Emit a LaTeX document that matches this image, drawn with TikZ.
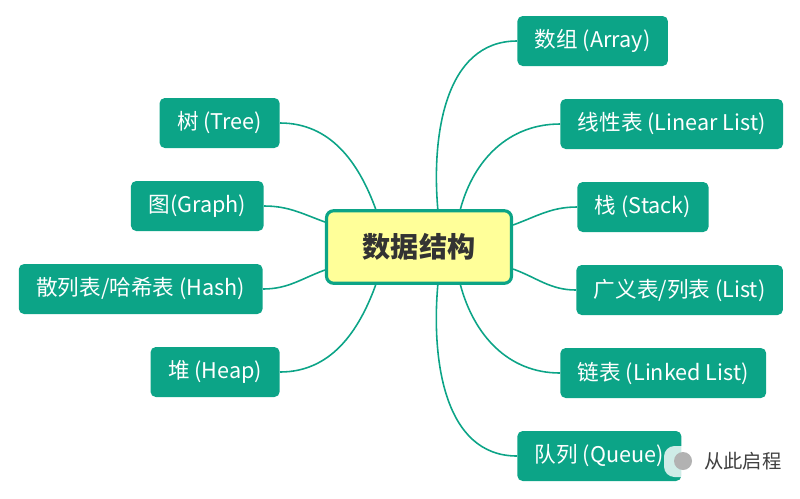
\documentclass[tikz,border=0pt]{standalone}
\usepackage{fontspec}
\setmainfont{Noto Sans CJK SC}
\usetikzlibrary{positioning,calc}
\definecolor{teal1}{HTML}{0CA487}
\definecolor{lemon}{HTML}{FFFF99}
\tikzset{
  leaf/.style={rectangle, rounded corners=3pt, fill=teal1, text=white, minimum height=1cm, inner xsep=10pt, font=\fontsize{12.3}{14}\selectfont},
  root/.style={rectangle, rounded corners=4pt, fill=lemon, draw=teal1, line width=1.8pt, minimum width=3.7cm, minimum height=1.45cm, font=\fontsize{16}{18}\selectfont\bfseries, text=black!80},
  link/.style={draw=teal1, line width=0.9pt}
}
\begin{document}
\begin{tikzpicture}[x=0.02cm, y=-0.02cm]
\useasboundingbox (0,0) rectangle (800,498);
% centre
\node[root] (ds) at (419,247) {数据结构};
% right side
\node[leaf, anchor=west] (arr) at (517,41) {数组 (Array)};
\node[leaf, anchor=west] (lin) at (560,124) {线性表 (Linear List)};
\node[leaf, anchor=west] (stk) at (577,207) {栈 (Stack)};
\node[leaf, anchor=west] (lst) at (576,290) {广义表/列表 (List)};
\node[leaf, anchor=west] (lnk) at (560,373) {链表 (Linked List)};
\node[leaf, anchor=west] (que) at (517,456) {队列 (Queue)};
% left side
\node[leaf, anchor=east] (tre) at (280,123) {树 (Tree)};
\node[leaf, anchor=east] (grp) at (264,206) {图(Graph)};
\node[leaf, anchor=east] (hsh) at (263,289) {散列表/哈希表 (Hash)};
\node[leaf, anchor=east] (hep) at (280,372) {堆 (Heap)};
%
\draw[link] ($(ds.north west)!0.6!(ds.north east)$) to[out=95,in=180] (arr.west);
\draw[link] ($(ds.north west)!0.72!(ds.north east)$) to[out=75,in=180] (lin.west);
\draw[link] ($(ds.east)+(0,-22)$) to[out=20,in=180] (stk.west);
\draw[link] ($(ds.east)+(0,22)$) to[out=-20,in=180] (lst.west);
\draw[link] ($(ds.south west)!0.72!(ds.south east)$) to[out=-75,in=180] (lnk.west);
\draw[link] ($(ds.south west)!0.6!(ds.south east)$) to[out=-95,in=180] (que.west);
\draw[link] ($(ds.north west)!0.27!(ds.north east)$) to[out=110,in=0] (tre.east);
\draw[link] ($(ds.west)+(0,-25)$) to[out=160,in=0] (grp.east);
\draw[link] ($(ds.west)+(0,23)$) to[out=-160,in=0] (hsh.east);
\draw[link] ($(ds.south west)!0.27!(ds.south east)$) to[out=-110,in=0] (hep.east);
% watermark
\fill[white, opacity=0.8, rounded corners=6pt] (664,446) rectangle (792,477);
\fill[gray!60] (683,461) circle (9);
\node[anchor=west, text=black!75, font=\fontsize{11}{13}\selectfont] (wm) at (698,461) {从此启程};
\end{tikzpicture}
\end{document}
